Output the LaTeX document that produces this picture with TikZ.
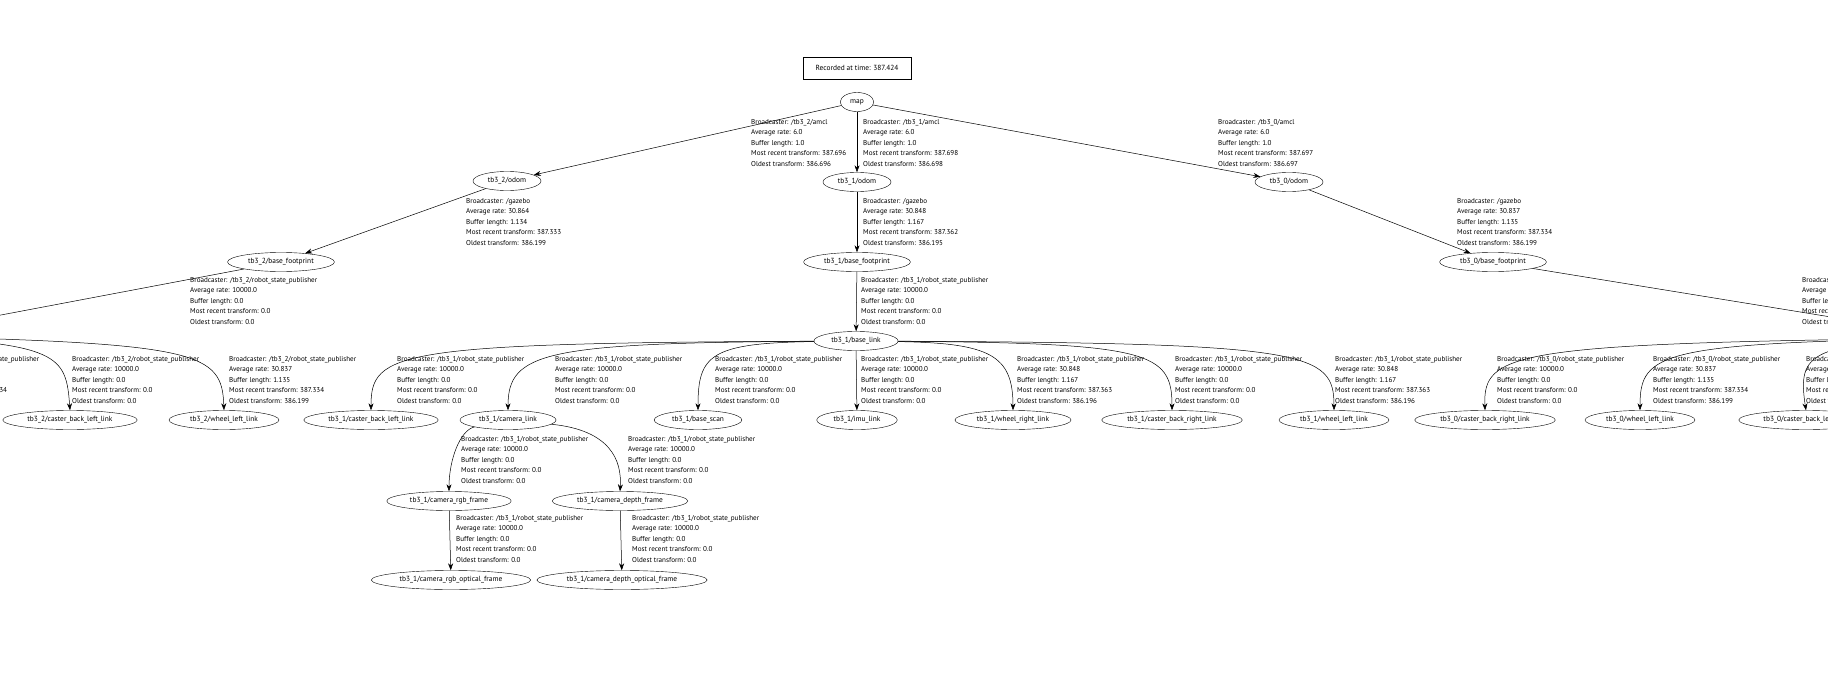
\documentclass[tikz,border=0pt]{standalone}
\usepackage{fontspec}
\setmainfont{PT Sans}
\usetikzlibrary{shapes.geometric,arrows.meta}
\begin{document}
\begin{tikzpicture}[x=1pt,y=-1pt,
  fr/.style={draw,ellipse,inner xsep=5pt,inner ysep=1pt,minimum height=19pt,font=\fontsize{7.4}{8}\selectfont},
  lab/.style={anchor=north west,align=left,inner sep=0pt,font=\fontsize{7.1}{10.5}\selectfont},
  e/.style={-{Stealth[length=7pt,width=5pt]},line width=0.5pt}]
\useasboundingbox (0,0) rectangle (1828,674);
\clip (0,0) rectangle (1828,674);
\fill[white] (0,0) rectangle (1828,674);
\newcommand{\tflab}[6]{\node[lab] at (#1,#2+5) {Broadcaster: #3\\Average rate: #4\\Buffer length: #5\\#6};}
% nodes
\node[draw,minimum width=108pt,minimum height=22pt,font=\fontsize{7.4}{8}\selectfont] (rec) at (857,68) {Recorded at time: 387.424};
\node[fr] (map) at (857,102) {map};
\node[fr] (o2) at (507,181) {tb3\_2/odom};
\node[fr] (o1) at (857,182) {tb3\_1/odom};
\node[fr] (o0) at (1289,182) {tb3\_0/odom};
\node[fr] (f2) at (281,262) {tb3\_2/base\_footprint};
\node[fr] (f1) at (857,262) {tb3\_1/base\_footprint};
\node[fr] (f0) at (1493,262) {tb3\_0/base\_footprint};
\node[fr] (b1) at (856,341) {tb3\_1/base\_link};
\coordinate (b2) at (-110,336);
\coordinate (b0) at (1960,338);
\node[fr] (l1) at (70,420) {tb3\_2/caster\_back\_left\_link};
\node[fr] (l2) at (224,420) {tb3\_2/wheel\_left\_link};
\node[fr] (l3) at (371,420) {tb3\_1/caster\_back\_left\_link};
\node[fr] (cam) at (508,420) {tb3\_1/camera\_link};
\node[fr] (scan) at (698,420) {tb3\_1/base\_scan};
\node[fr] (imu) at (857,420) {tb3\_1/imu\_link};
\node[fr] (wr) at (1013,420) {tb3\_1/wheel\_right\_link};
\node[fr] (cbr) at (1172,420) {tb3\_1/caster\_back\_right\_link};
\node[fr] (wl) at (1334,420) {tb3\_1/wheel\_left\_link};
\node[fr] (c0) at (1485,420) {tb3\_0/caster\_back\_right\_link};
\node[fr] (w0) at (1640,420) {tb3\_0/wheel\_left\_link};
\node[fr] (cl0) at (1806,420) {tb3\_0/caster\_back\_left\_link};
\node[fr] (rgb) at (449,501) {tb3\_1/camera\_rgb\_frame};
\node[fr] (dep) at (620,501) {tb3\_1/camera\_depth\_frame};
\node[fr] (rgbo) at (451,580) {tb3\_1/camera\_rgb\_optical\_frame};
\node[fr] (depo) at (622,580) {tb3\_1/camera\_depth\_optical\_frame};
% edges
\draw[e] (map) -- (o2);
\draw[e] (map) -- (o1);
\draw[e] (map) -- (o0);
\draw[e] (o2) -- (f2);
\draw[e] (o1) -- (f1);
\draw[e] (o0) -- (f0);
\draw[e] (f1) -- (b1);
\draw[e] (f2) -- (b2);
\draw[e] (f0) -- (b0);
\draw[e] (b2) .. controls (60,343) and (66,355) .. (l1.north);
\draw[e] (b2) .. controls (200,343) and (222,352) .. (l2.north);
\draw[e] (b0) .. controls (1510,343) and (1483,352) .. (c0.north);
\draw[e] (b0) .. controls (1660,343) and (1640,352) .. (w0.north);
\draw[e] (b0) .. controls (1810,343) and (1797,352) .. (cl0.north);
\draw[e] (b1) .. controls (395,343) and (371,352) .. (l3.north);
\draw[e] (b1) .. controls (545,343) and (508,352) .. (cam.north);
\draw[e] (b1) .. controls (710,343) and (698,355) .. (scan.north);
\draw[e] (b1) -- (imu);
\draw[e] (b1) .. controls (990,343) and (1013,355) .. (wr.north);
\draw[e] (b1) .. controls (1150,343) and (1172,352) .. (cbr.north);
\draw[e] (b1) .. controls (1310,343) and (1334,352) .. (wl.north);
\draw[e] (cam) .. controls (460,430) and (449,460) .. (rgb.north);
\draw[e] (cam) .. controls (610,430) and (622,460) .. (dep.north);
\draw[e] (rgb) -- (rgbo);
\draw[e] (dep) -- (depo);
% labels
\tflab{751}{114}{/tb3\_2/amcl}{6.0}{1.0}{Most recent transform: 387.696\\Oldest transform: 386.696}
\tflab{863}{114}{/tb3\_1/amcl}{6.0}{1.0}{Most recent transform: 387.698\\Oldest transform: 386.698}
\tflab{1218}{114}{/tb3\_0/amcl}{6.0}{1.0}{Most recent transform: 387.697\\Oldest transform: 386.697}
\tflab{466}{193}{/gazebo}{30.864}{1.134}{Most recent transform: 387.333\\Oldest transform: 386.199}
\tflab{863}{193}{/gazebo}{30.848}{1.167}{Most recent transform: 387.362\\Oldest transform: 386.195}
\tflab{1457}{193}{/gazebo}{30.837}{1.135}{Most recent transform: 387.334\\Oldest transform: 386.199}
\tflab{190}{272}{/tb3\_2/robot\_state\_publisher}{10000.0}{0.0}{Most recent transform: 0.0\\Oldest transform: 0.0}
\tflab{861}{272}{/tb3\_1/robot\_state\_publisher}{10000.0}{0.0}{Most recent transform: 0.0\\Oldest transform: 0.0}
\tflab{1802}{272}{/tb3\_0/robot\_state\_publisher}{10000.0}{0.0}{Most recent transform: 0.0\\Oldest transform: 0.0}
\tflab{-88}{351}{/tb3\_2/robot\_state\_publisher}{30.837}{1.135}{Most recent transform: 387.334\\Oldest transform: 386.199}
\tflab{72}{351}{/tb3\_2/robot\_state\_publisher}{10000.0}{0.0}{Most recent transform: 0.0\\Oldest transform: 0.0}
\tflab{229}{351}{/tb3\_2/robot\_state\_publisher}{30.837}{1.135}{Most recent transform: 387.334\\Oldest transform: 386.199}
\tflab{397}{351}{/tb3\_1/robot\_state\_publisher}{10000.0}{0.0}{Most recent transform: 0.0\\Oldest transform: 0.0}
\tflab{555}{351}{/tb3\_1/robot\_state\_publisher}{10000.0}{0.0}{Most recent transform: 0.0\\Oldest transform: 0.0}
\tflab{715}{351}{/tb3\_1/robot\_state\_publisher}{10000.0}{0.0}{Most recent transform: 0.0\\Oldest transform: 0.0}
\tflab{861}{351}{/tb3\_1/robot\_state\_publisher}{10000.0}{0.0}{Most recent transform: 0.0\\Oldest transform: 0.0}
\tflab{1017}{351}{/tb3\_1/robot\_state\_publisher}{30.848}{1.167}{Most recent transform: 387.363\\Oldest transform: 386.196}
\tflab{1175}{351}{/tb3\_1/robot\_state\_publisher}{10000.0}{0.0}{Most recent transform: 0.0\\Oldest transform: 0.0}
\tflab{1335}{351}{/tb3\_1/robot\_state\_publisher}{30.848}{1.167}{Most recent transform: 387.363\\Oldest transform: 386.196}
\tflab{1497}{351}{/tb3\_0/robot\_state\_publisher}{10000.0}{0.0}{Most recent transform: 0.0\\Oldest transform: 0.0}
\tflab{1653}{351}{/tb3\_0/robot\_state\_publisher}{30.837}{1.135}{Most recent transform: 387.334\\Oldest transform: 386.199}
\tflab{1806}{351}{/tb3\_0/robot\_state\_publisher}{10000.0}{0.0}{Most recent transform: 0.0\\Oldest transform: 0.0}
\tflab{461}{431}{/tb3\_1/robot\_state\_publisher}{10000.0}{0.0}{Most recent transform: 0.0\\Oldest transform: 0.0}
\tflab{628}{431}{/tb3\_1/robot\_state\_publisher}{10000.0}{0.0}{Most recent transform: 0.0\\Oldest transform: 0.0}
\tflab{456}{510}{/tb3\_1/robot\_state\_publisher}{10000.0}{0.0}{Most recent transform: 0.0\\Oldest transform: 0.0}
\tflab{632}{510}{/tb3\_1/robot\_state\_publisher}{10000.0}{0.0}{Most recent transform: 0.0\\Oldest transform: 0.0}
\end{tikzpicture}
\end{document}
